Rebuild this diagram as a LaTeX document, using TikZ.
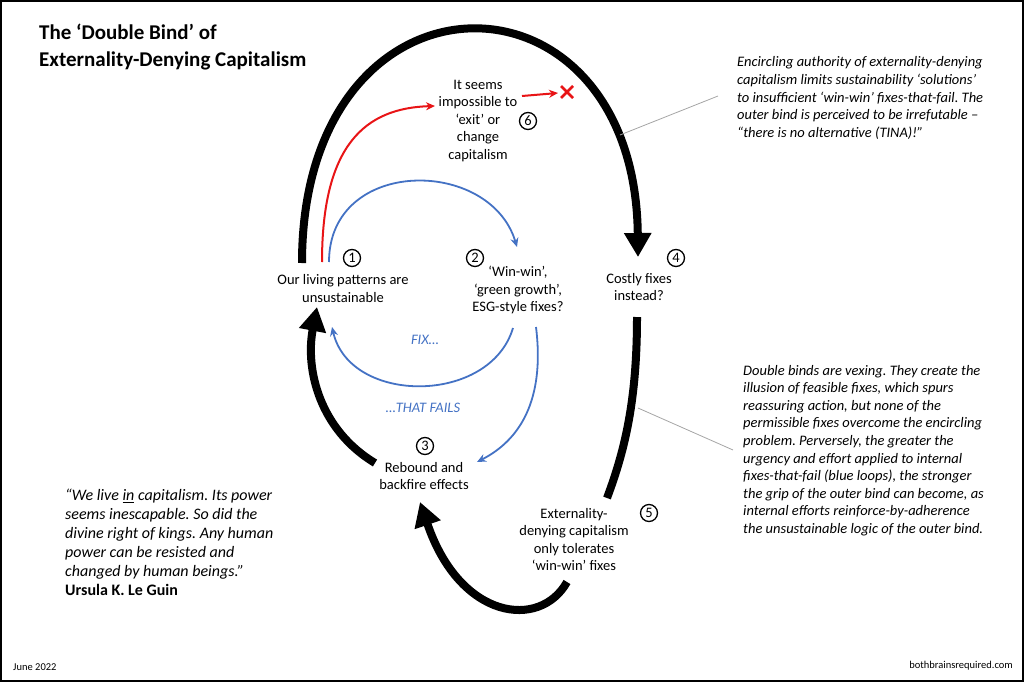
\documentclass[tikz,border=0pt]{standalone}
\usepackage{fontspec}
\setmainfont{Carlito}
\usetikzlibrary{arrows.meta}
\definecolor{fixblue}{RGB}{68,114,196}
\definecolor{exitred}{RGB}{232,20,22}
\definecolor{leadergray}{RGB}{165,165,165}
\frenchspacing
\begin{document}
\begin{tikzpicture}[x=1pt,y=-1pt,
  txt/.style={align=center,font=\fontsize{14.5}{17.5}\selectfont,inner sep=0pt},
  note/.style={align=left,font=\fontsize{14.5}{17.6}\selectfont\itshape,inner sep=0pt,anchor=west},
  num/.style={circle,draw,line width=1.3pt,minimum size=17pt,inner sep=0pt,font=\fontsize{14.5}{14.5}\selectfont},
  bind/.style={line width=8pt,-{Triangle[width=26pt,length=24pt]}},
  bindline/.style={line width=8pt},
  fixarrow/.style={fixblue,line width=1.8pt,-{Stealth[length=9pt,width=8pt]}},
  exitarrow/.style={exitred,line width=2pt,-{Stealth[length=9pt,width=8pt]}},
  fixlabel/.style={fixblue,font=\fontsize{14.5}{17.5}\selectfont\itshape,inner sep=0pt},
  leader/.style={leadergray,line width=0.8pt}]

\useasboundingbox (0,0) rectangle (1024,682);
\draw[line width=2pt] (1,1) rectangle (1023,681);

% title
\node[anchor=west,align=left,inner sep=0pt,font=\fontsize{21}{27}\selectfont\bfseries] (title) at (39,47)
  {The ‘Double Bind’ of\\Externality-Denying Capitalism};

% main nodes
\node[txt] (living) at (343,288.5) {Our living patterns are\\unsustainable};
\node[txt] (winwin) at (518,290) {‘Win-win’,\\‘green growth’,\\ESG-style fixes?};
\node[txt] (exit) at (478,121) {It seems\\impossible to\\‘exit’ or\\change\\capitalism};
\node[txt] (costly) at (639,287) {Costly fixes\\instead?};
\node[txt] (rebound) at (424,476) {Rebound and\\backfire effects};
\node[txt] (ext) at (574,539.5) {Externality-\\denying capitalism\\only tolerates\\‘win-win’ fixes};

% number circles
\node[num] (c1) at (352,258) {1};
\node[num] (c2) at (475,258) {2};
\node[num] (c3) at (425,446) {3};
\node[num] (c4) at (676,258) {4};
\node[num] (c5) at (649,513) {5};
\node[num] (c6) at (528,121) {6};

% blue labels
\node[fixlabel] (fixlab) at (425,340) {FIX…};
\node[fixlabel] (faillab) at (423,408) {…THAT FAILS};

% connector end points
\coordinate (topS) at (302,263);
\coordinate (topE) at (638,257);
\coordinate (downS) at (637,317);
\coordinate (downE) at (607,498);
\coordinate (botS) at (567,582);
\coordinate (botE) at (420,502);
\coordinate (leftS) at (375,463);
\coordinate (leftE) at (317,307);
\coordinate (redS) at (322,262);
\coordinate (redE) at (435,106);
\coordinate (redxS) at (522,96);
\coordinate (redxE) at (558,93);
\coordinate (xmark) at (567,92);
\coordinate (blueS) at (329,262);
\coordinate (blueE) at (517,247);
\coordinate (fixS) at (513,328);
\coordinate (fixE) at (332,327);
\coordinate (failS) at (536,327);
\coordinate (failE) at (477,462);
\coordinate (lead1S) at (620,135);
\coordinate (lead1E) at (718,96);
\coordinate (lead2S) at (638,408);
\coordinate (lead2E) at (733,450);

% outer bind (black)
\draw[bind] (topS) .. controls (302,-45) and (635,-45) .. (topE);
\draw[bindline] (downS) .. controls (637,400) and (625,450) .. (downE);
\draw[bind] (botS) .. controls (540,630) and (460,620) .. (botE);
\draw[bind] (leftS) .. controls (320,430) and (305,370) .. (leftE);

% red exit attempt
\draw[exitarrow] (redS) .. controls (322,145) and (365,108) .. (redE);
\draw[exitarrow] (redxS) -- (redxE);
\draw[exitred,line width=2.6pt] ([shift={(-6,-6)}]xmark) -- ([shift={(6,6)}]xmark)
  ([shift={(-6,6)}]xmark) -- ([shift={(6,-6)}]xmark);

% blue loops
\draw[fixarrow] (blueS) .. controls (329,157) and (490,157) .. (blueE);
\draw[fixarrow] (fixS) .. controls (490,405) and (350,405) .. (fixE);
\draw[fixarrow] (failS) .. controls (545,400) and (520,440) .. (failE);

% notes
\draw[leader] (lead1S) -- (lead1E);
\draw[leader] (lead2S) -- (lead2E);
\node[note] (note1) at (737,98) {Encircling authority of externality-denying\\capitalism limits sustainability ‘solutions’\\to insufficient ‘win-win’ fixes-that-fail. The\\outer bind is perceived to be irrefutable –\\“there is no alternative (TINA)!”};
\node[note] (note2) at (743,450.5) {Double binds are vexing. They create the\\illusion of feasible fixes, which spurs\\reassuring action, but none of the\\permissible fixes overcome the encircling\\problem. Perversely, the greater the\\urgency and effort applied to internal\\fixes-that-fail (blue loops), the stronger\\the grip of the outer bind can become, as\\internal efforts reinforce-by-adherence\\the unsustainable logic of the outer bind.};

% quote
\node[anchor=west,align=left,inner sep=0pt,font=\fontsize{16}{19}\selectfont] (quote) at (65,542.5)
  {\itshape “We live \underline{in} capitalism. Its power\\\itshape seems inescapable. So did the\\\itshape divine right of kings. Any human\\\itshape power can be resisted and\\\itshape changed by human beings.”\\\bfseries Ursula K. Le Guin};

% footer
\node[anchor=west,inner sep=0pt,font=\fontsize{10.5}{12}\selectfont] (date) at (13,667) {June 2022};
\node[anchor=east,inner sep=0pt,font=\fontsize{10.5}{12}\selectfont] (site) at (1013,666) {bothbrainsrequired.com};
\end{tikzpicture}
\end{document}
